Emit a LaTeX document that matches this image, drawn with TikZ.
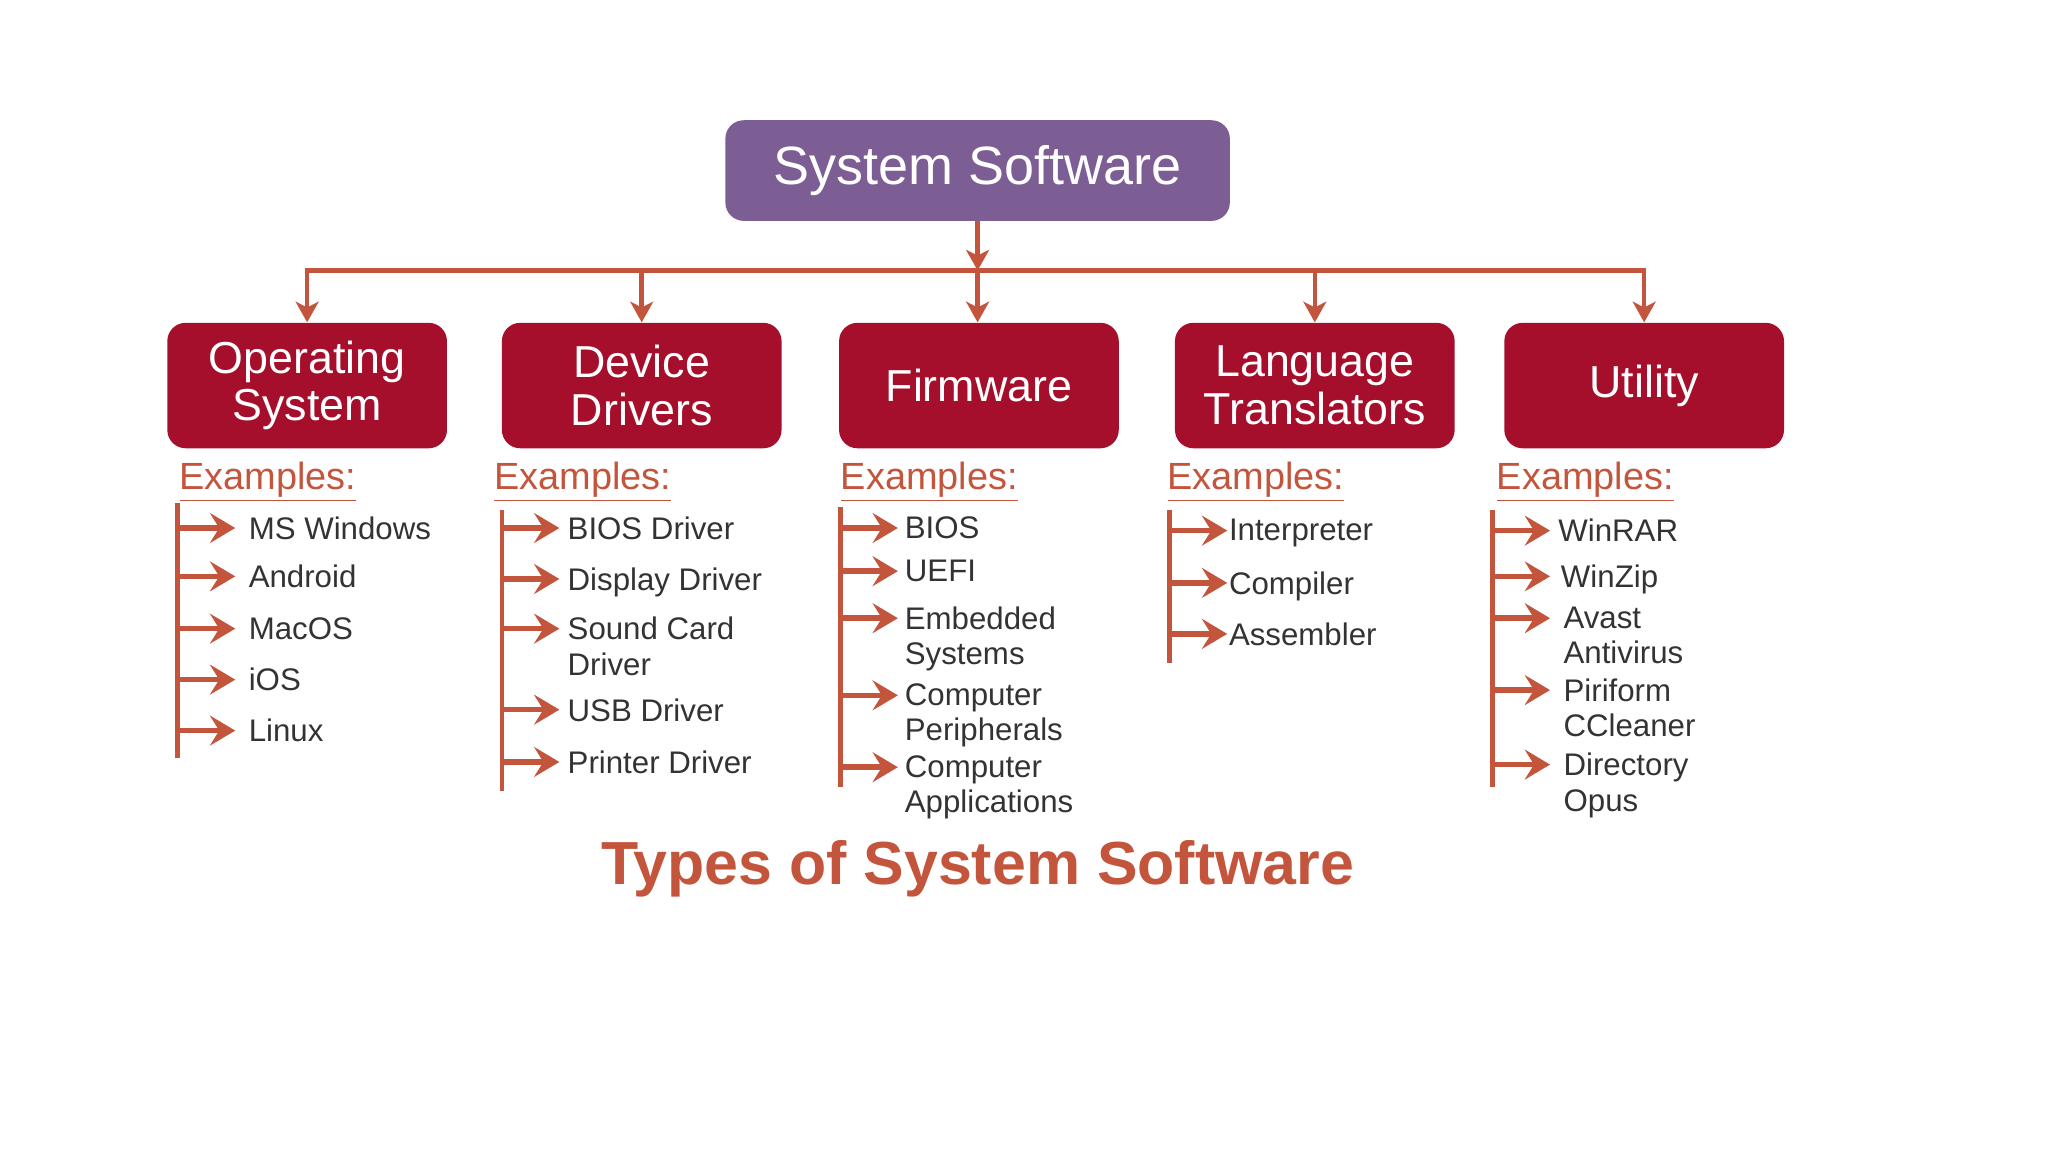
\documentclass[tikz,border=0pt]{standalone}
\usepackage{fontspec}
\setmainfont{Liberation Sans}
\usetikzlibrary{arrows.meta}
\definecolor{conn}{HTML}{C4553D}
\definecolor{boxred}{HTML}{A50F2B}
\definecolor{purp}{HTML}{7D5E94}
\definecolor{txt}{HTML}{333333}
\begin{document}
\begin{tikzpicture}[x=0.02cm,y=-0.02cm,
  cat/.style={draw=none,fill=boxred,rounded corners=8pt,minimum width=214*0.02cm,minimum height=96*0.02cm,text=white,align=center,font=\fontsize{19.5}{21}\selectfont,inner sep=0pt},
  ex/.style={anchor=west,inner sep=0pt,text=conn,font=\fontsize{16.5}{17}\selectfont},
  item/.style={anchor=north west,inner sep=0pt,text=txt,align=left,font=\fontsize{13.6}{15.3}\selectfont},
  conn/.style={draw=conn,line width=2pt},
  iarr/.style={draw=conn,line width=2.4pt,-{Stealth[length=11pt,width=13pt,inset=4pt]}},
  darr/.style={draw=conn,line width=2pt,-{Stealth[length=9pt,width=10pt,inset=2.5pt]}}]
\useasboundingbox (0,0) rectangle (1567,881.4);
\node[fill=purp,rounded corners=8pt,minimum width=386*0.02cm,minimum height=77*0.02cm,text=white,font=\fontsize{23.5}{26}\selectfont] (top) at (748,130.5) {\raisebox{-2pt}{System Software}};
\node[cat] (os) at (235,295) {\raisebox{-2pt}{\shortstack{Operating\\System}}};
\node[cat] (dd) at (491,295) {Device\\Drivers};
\node[cat] (fw) at (749,295) {Firmware};
\node[cat] (lt) at (1006,295) {Language\\Translators};
\node[cat] (ut) at (1258,295) {Utility};
\coordinate (j) at (748,207);
\draw[darr] (top.south) -- (j);
\draw[darr] (j) -- (j|-fw.north);
\foreach \b in {os,dd,lt,ut}{\draw[darr] (j) -| (\b.north);}
\foreach \b/\x in {os/137,dd/378,fw/643,lt/893,ut/1145}{
  \node[ex] (ex\b) at (\x,369) {\underline{Examples:}};}
\newcommand{\itm}[5]{% name, linex, y, textx, text
  \coordinate (#1a) at (#2,#3);
  \node[item] (#1) at (#4,#3-9) {#5};
  \draw[iarr] (#1a) -- ++(44,0);}
\draw[conn] (136,385) -- (136,580);
\itm{o1}{136}{404}{190}{MS Windows}
\itm{o2}{136}{441}{190}{Android}
\itm{o3}{136}{481}{190}{MacOS}
\itm{o4}{136}{520}{190}{iOS}
\itm{o5}{136}{559}{190}{Linux}
\draw[conn] (384,390) -- (384,605);
\itm{d1}{384}{404}{434}{BIOS Driver}
\itm{d2}{384}{443}{434}{Display Driver}
\itm{d3}{384}{481}{434}{Sound Card\\Driver}
\itm{d4}{384}{543}{434}{USB Driver}
\itm{d5}{384}{583}{434}{Printer Driver}
\draw[conn] (643,388) -- (643,602);
\itm{f1}{643}{404}{692}{BIOS}
\itm{f2}{643}{437}{692}{UEFI}
\itm{f3}{643}{473}{692}{Embedded\\Systems}
\itm{f4}{643}{532}{692}{Computer\\Peripherals}
\itm{f5}{643}{587}{692}{Computer\\Applications}
\draw[conn] (895,390) -- (895,507);
\itm{l1}{895}{406}{940}{Interpreter}
\itm{l2}{895}{446}{940}{Compiler}
\itm{l3}{895}{485}{940}{Assembler}
\draw[conn] (1142,390) -- (1142,602);
\itm{u1}{1142}{406}{1192}{WinRAR}
\itm{u2}{1142}{441}{1194}{WinZip}
\itm{u3}{1142}{473}{1196}{Avast\\Antivirus}
\itm{u4}{1142}{528}{1196}{Piriform\\CCleaner}
\itm{u5}{1142}{585}{1196}{Directory\\Opus}
\node[text=conn,font=\bfseries\fontsize{26.5}{30}\selectfont] (title) at (748,665) {Types of System Software};
\end{tikzpicture}
\end{document}
